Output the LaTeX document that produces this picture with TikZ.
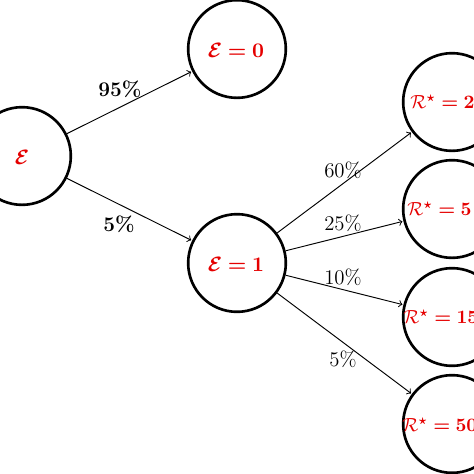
\documentclass[tikz,border=0pt]{standalone}
\usepackage{amsmath}
\usepackage{bm}
\begin{document}
\begin{tikzpicture}[x=0.5273pt,y=-0.5273pt,
  every node/.style={font=\fontsize{11}{13}\selectfont},
  state/.style={circle,draw=black,line width=1.4pt,minimum size=51.5pt,inner sep=0pt},
  lbl/.style={text=red!90!black},
  rlbl/.style={lbl,anchor=west,inner sep=0pt,font=\fontsize{10}{12}\selectfont},
  edge/.style={->,line width=0.5pt,shorten >=0.5pt},
]
\useasboundingbox (0,0) rectangle (474,474);
\node[state] (L) at (22,156) {};
\node[state] (T) at (237,49) {};
\node[state] (M) at (237,263) {};
\node[state] (R1) at (452,102) {};
\node[state] (R2) at (452,209) {};
\node[state] (R3) at (452,317) {};
\node[state] (R4) at (452,424) {};
\node[lbl] (tL) at (22,157) {$\bm{\mathcal{E}}$};
\node[lbl] (tT) at (236,50) {$\bm{\mathcal{E}=0}$};
\node[lbl] (tM) at (236,264) {$\bm{\mathcal{E}=1}$};
\node[rlbl] (t1) at (410,102) {$\mathcal{R}^{\bm{\star}}\mathrel{\bm{=}}\bm{2}$};
\node[rlbl] (t2) at (407,209) {$\mathcal{R}^{\bm{\star}}\mathrel{\bm{=}}\bm{5}$};
\node[rlbl] (t3) at (403,317) {$\mathcal{R}^{\bm{\star}}\mathrel{\bm{=}}\bm{15}$};
\node[rlbl] (t4) at (402,425) {$\mathcal{R}^{\bm{\star}}\mathrel{\bm{=}}\bm{50}$};
\draw[edge] (L) -- (T);
\draw[edge] (L) -- (M);
\draw[edge] (M) -- (R1);
\draw[edge] (M) -- (R2);
\draw[edge] (M) -- (R3);
\draw[edge] (M) -- (R4);
\node (p95) at (120,89) {\textbf{95\%}};
\node (p5a) at (119,224) {\textbf{5\%}};
\node (p60) at (343,170) {60\%};
\node (p25) at (343,223) {25\%};
\node (p10) at (343,277) {10\%};
\node (p5b) at (343,359) {5\%};
\end{tikzpicture}
\end{document}
